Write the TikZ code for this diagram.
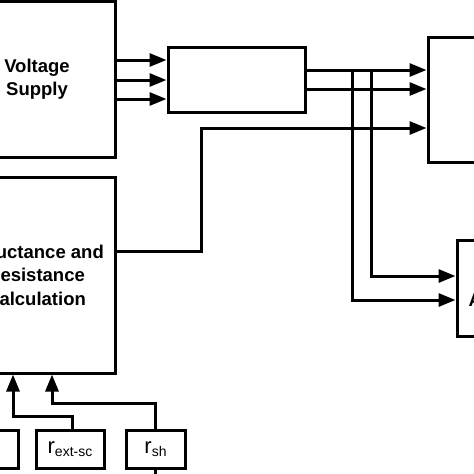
\documentclass[tikz,border=0pt]{standalone}
\usepackage{fontspec}
\setsansfont{Liberation Sans}
\usetikzlibrary{arrows.meta,positioning}

\newcommand{\rlabel}[1]{{\fontsize{22}{22}\selectfont r}\raisebox{-3pt}{\fontsize{14}{14}\selectfont #1}}

\begin{document}
\begin{tikzpicture}[x=1pt,y=-1pt,line width=3pt,
        block/.style={draw, rectangle, inner sep=0pt, align=center,
            font=\sffamily\bfseries\fontsize{18.5}{23.5}\selectfont},
        small/.style={draw, rectangle, inner sep=0pt, minimum height=38pt,
            font=\sffamily},
        arr/.style={-{Triangle[length=17pt,width=13pt]}}]
        \useasboundingbox (0,0) rectangle (474,474);
        \clip (0,0) rectangle (474,474);
        % blocks
        \node[block, minimum width=156pt, minimum height=156pt] (vs) at (37,79) {Voltage\\Supply};
        \node[block, minimum width=137pt, minimum height=65pt] (conv) at (236.5,79.5) {};
        \node[block, minimum width=132pt, minimum height=125pt] (rtop) at (494,99.5) {};
        \node[block, minimum width=126pt, minimum height=96pt] (rbot) at (520,288) {};
        \node[block, minimum width=158pt, minimum height=196pt] (calc) at (36,275) {Inductance and\\Resistance\\Calculation};
        \node[font=\sffamily\bfseries\fontsize{18.5}{20}\selectfont, anchor=west, inner sep=0pt] (abox) at (467,300) {A};
        % parameters
        \node[small, minimum width=59pt] (rsb) at (-11.5,449) {\rlabel{sb}};
        \node[small, minimum width=68pt] (rext) [right=15pt of rsb] {\rlabel{ext-sc}};
        \node[small, minimum width=59pt] (rsh) [right=19pt of rext] {\rlabel{sh}};
        \coordinate (rshout) at (rsh.south |- 0,480);
        % connections
        \foreach \y in {60,80,99}
            \draw[arr] (vs.east |- 0,\y) -- (conv.west |- 0,\y);
        \foreach \y in {70,89}
            \draw[arr] (conv.east |- 0,\y) -- (rtop.west |- 0,\y);
        \draw[arr] (calc.east |- 0,251) -| (201,128) -- (rtop.west |- 0,128);
        \draw[arr] (371,70) |- (rbot.west |- 0,276);
        \draw[arr] (352,70) |- (rbot.west |- 0,300);
        \draw[arr] (rext.north -| 72,0) |- (13,416) -- (calc.south -| 13,0);
        \draw[arr] (rsh.north) |- (52,403) -- (calc.south -| 52,0);
        \draw (rsh.south) -- (rshout);
    \end{tikzpicture}
\end{document}
